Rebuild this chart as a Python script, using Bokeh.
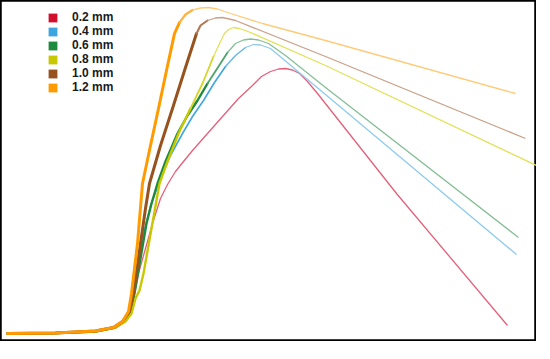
from bokeh.plotting import figure
from bokeh.models import Range1d, Legend, LegendItem
from bokeh.embed import file_html
from bokeh.resources import INLINE

# ---- data (x = time-like, y = load-like units) ----
labels = ["0.2 mm", "0.4 mm", "0.6 mm", "0.8 mm", "1.0 mm", "1.2 mm"]

x_02 = [7, 55, 95, 115, 125, 131, 134, 138, 145, 152, 160, 167, 175, 183, 192, 207, 222, 238, 252, 261, 270, 278, 285, 292, 299, 307, 317, 396, 507]
y_02 = [8, 8.5, 10, 14, 21, 30, 48, 68, 93, 118, 143, 157, 170, 180, 191, 208, 225, 243, 256, 265, 270, 272.5, 273, 271.5, 268, 260, 248, 148, 16]

x_04 = [7, 55, 95, 115, 125, 130, 133, 138, 143, 150, 158, 170, 182, 192, 203, 214, 225, 235, 245, 253, 260, 270, 285, 295, 325, 516]
y_04 = [8, 8.5, 10, 14, 21, 30, 48, 78, 108, 135, 158, 186, 208, 225, 241, 259, 275, 286, 294, 297, 296.5, 293, 280.5, 272, 247, 87]

x_06 = [7, 55, 95, 115, 125, 130, 134, 140, 146, 151, 157, 165, 177, 187, 197, 207, 218, 227, 235, 243, 250, 258, 268, 285, 325, 518]
y_06 = [8, 8.5, 10, 14, 21, 30, 48, 83, 118, 138, 158, 180, 208, 226, 241, 258, 275, 289, 298, 301.5, 302.5, 301.5, 298, 286, 254, 104]

x_08 = [7, 55, 95, 115, 125, 131, 135, 139, 143, 151, 159, 167, 178, 190, 202, 213, 220, 224, 228, 233, 239, 250, 325, 536]
y_08 = [8, 8.5, 10, 14, 20, 28, 43, 51, 68, 113, 158, 180, 208, 233, 258, 285, 300, 308, 312, 314, 313, 309, 276, 176]

x_10 = [7, 55, 95, 113, 122, 129, 133, 140, 145, 149, 160, 172, 185, 196, 200, 207, 215, 222, 235, 325, 525]
y_10 = [8, 8.5, 10.5, 14, 20, 30, 48, 98, 133, 158, 196, 233, 274, 308, 316, 321, 323.5, 324, 321, 285, 203]

x_12 = [7, 55, 95, 113, 122, 128, 131, 137, 142, 150, 158, 166, 174, 179, 185, 192, 200, 208, 217, 230, 262, 325, 515]
y_12 = [8, 8.5, 10.5, 14, 20, 30, 48, 98, 158, 196, 233, 271, 308, 319, 327, 331.5, 333.5, 334, 332.5, 328, 318, 301, 248]

series_x = [x_02, x_04, x_06, x_08, x_10, x_12]
series_y = [y_02, y_04, y_06, y_08, y_10, y_12]

# ---- styles ----
colors = ["#D2102E", "#3DA6E0", "#1E8A3E", "#C8C800", "#98521E", "#FF9A00"]
fade_colors = ["#E4607A", "#8FCBEF", "#86BE96", "#E2E25A", "#C9A088", "#FFCB78"]
rise_width = [1.3, 1.6, 2.4, 2.4, 3.0, 3.0]
split_at = [0, 16, 15, 13, 13, 13]   # index where the stroke starts to turn light


def blend(c1, c2, t=0.5):
    a = [int(c1[i:i + 2], 16) for i in (1, 3, 5)]
    b = [int(c2[i:i + 2], 16) for i in (1, 3, 5)]
    return "#%02x%02x%02x" % tuple(round(u + (v - u) * t) for u, v in zip(a, b))


p = figure(width=536, height=341, output_backend="svg", toolbar_location=None,
           x_range=Range1d(0, 536), y_range=Range1d(0, 341),
           min_border=0, min_border_left=0, min_border_right=0,
           min_border_top=0, min_border_bottom=0)
p.xaxis.visible = False
p.yaxis.visible = False
p.xgrid.visible = False
p.ygrid.visible = False
p.outline_line_color = "black"
p.outline_line_width = 2.5
p.background_fill_color = "white"
p.border_fill_color = "white"

for xs, ys, c, fc, w, s in zip(series_x, series_y, colors, fade_colors, rise_width, split_at):
    if s > 0:
        p.line(xs[:s + 1], ys[:s + 1], line_color=c, line_width=w, line_join="round", line_cap="round")
        p.line(xs[s:s + 3], ys[s:s + 3], line_color=blend(c, fc, 0.5), line_width=(w + 1.3) / 2,
               line_join="round", line_cap="round")
        p.line(xs[s + 2:], ys[s + 2:], line_color=fc, line_width=1.3, line_join="round")
    else:
        p.line(xs, ys, line_color=fc, line_width=1.3, line_join="round")

items = []
for lab, c in zip(labels, colors):
    r = p.quad(left=[-20], right=[-10], top=[-10], bottom=[-20], fill_color=c, line_color=None)
    items.append(LegendItem(label=lab, renderers=[r]))

legend = Legend(items=items, location=(47, 247), padding=0, margin=0, spacing=0,
                label_height=14, glyph_width=11, glyph_height=11, label_standoff=14,
                label_text_font="Liberation Sans", label_text_font_size="12px",
                label_text_font_style="bold", label_text_color="#1a1a1a",
                border_line_color=None, background_fill_alpha=0)
p.add_layout(legend, "center")

open("out.html", "w").write(file_html(p, INLINE))
